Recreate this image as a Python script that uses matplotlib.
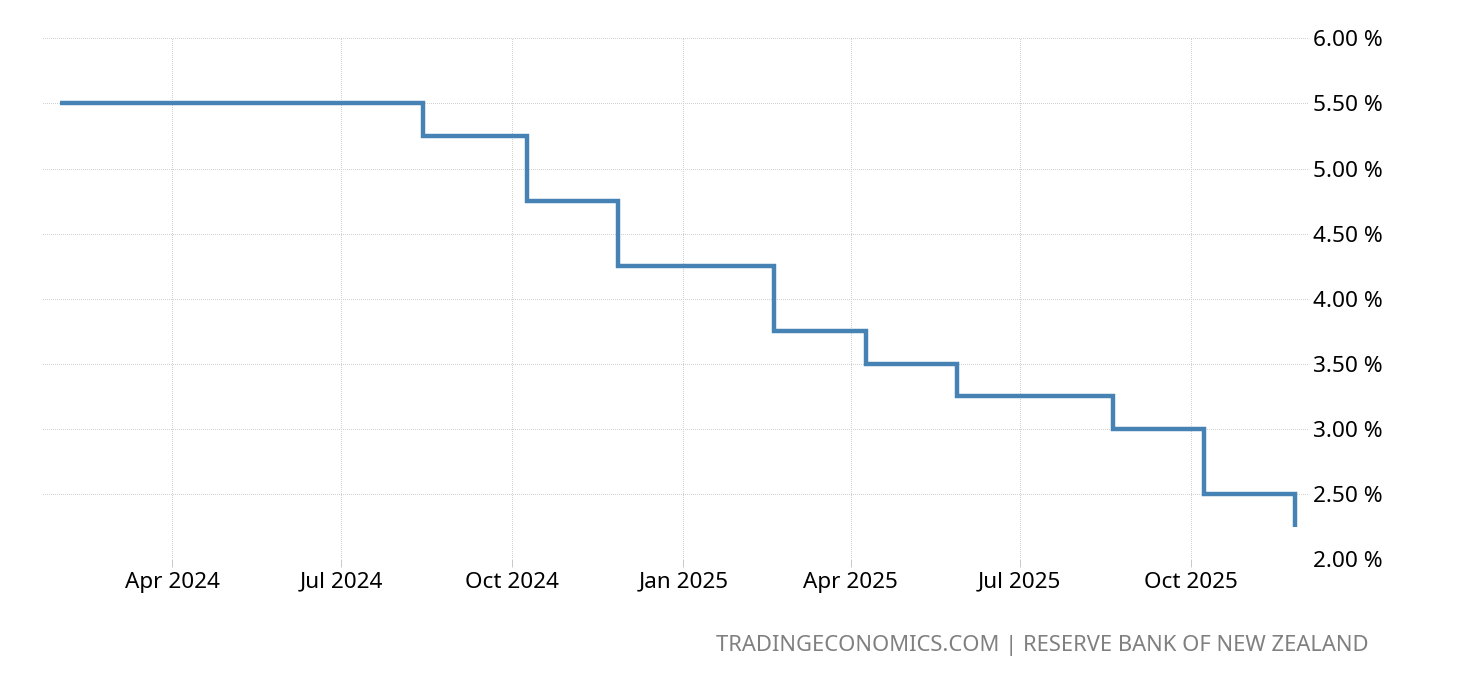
import matplotlib
matplotlib.use('Agg')
import matplotlib.pyplot as plt
import matplotlib.dates as mdates
import pandas as pd

plt.rcParams['font.family'] = ['Noto Sans', 'DejaVu Sans']

# decisions of the central bank, last one closes the line
dates = ['2024-02-01', '2024-08-14', '2024-10-09', '2024-11-27', '2025-02-19',
         '2025-04-09', '2025-05-28', '2025-08-20', '2025-10-08', '2025-11-26']
rates = [5.50, 5.25, 4.75, 4.25, 3.75, 3.50, 3.25, 3.00, 2.50, 2.25]

x_ticks = ['2024-04-01', '2024-07-01', '2024-10-01', '2025-01-01',
           '2025-04-01', '2025-07-01', '2025-10-01']
y_ticks = [2.0, 2.5, 3.0, 3.5, 4.0, 4.5, 5.0, 5.5, 6.0]

W, H = 1460, 680
fig = plt.figure(figsize=(W / 100, H / 100), dpi=100)
# axes box in pixels: 43..1308 across, 38..559 down
ax = fig.add_axes([43 / W, 1 - 559.3 / H, (1308 - 43) / W, (559.3 - 38.3) / H])

x = pd.to_datetime(dates)
ax.plot(x, rates, drawstyle='steps-post', color='#4682b4', lw=3.2,
        solid_joinstyle='miter', solid_capstyle='butt', zorder=3)

ax.set_xlim(pd.Timestamp('2024-04-01') - pd.Timedelta(days=69.4),
            pd.Timestamp('2024-04-01') + pd.Timedelta(days=611))
ax.set_ylim(2, 6)

ax.set_xticks(pd.to_datetime(x_ticks))
ax.xaxis.set_major_formatter(mdates.DateFormatter('%b %Y'))
ax.set_yticks(y_ticks)
ax.set_yticklabels([f'{v:.2f} %' for v in y_ticks])
ax.yaxis.tick_right()

ax.tick_params(axis='x', length=5.5, width=0.7, color='#c8c8c8', pad=3.5,
               labelsize=16.2, labelcolor='black')
ax.tick_params(axis='y', length=0, pad=3.6, labelsize=16.3, labelcolor='black')

# no antialiasing, otherwise the 1px dots blur into a solid line
ax.grid(True, color='#d2d2d2', lw=0.72, linestyle=(0, (1, 2)), antialiased=False,
        dash_capstyle='butt')
ax.set_axisbelow(True)

for spine in ax.spines.values():
    spine.set_visible(False)

fig.text(1369 / W, 1 - 645 / H, 'TRADINGECONOMICS.COM | RESERVE BANK OF NEW ZEALAND',
         color='#808080', fontsize=15.8, ha='right', va='center')

fig.savefig('out.png', dpi=100, facecolor='white')
